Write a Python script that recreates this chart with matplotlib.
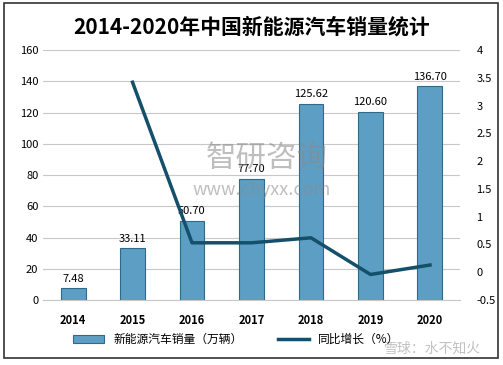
import numpy as np
import matplotlib.pyplot as plt
from matplotlib.patches import Rectangle

plt.rcParams['font.family'] = ['Noto Sans CJK SC', 'DejaVu Sans']

years = ['2014', '2015', '2016', '2017', '2018', '2019', '2020']
sales = [7.48, 33.11, 50.70, 77.70, 125.62, 120.60, 136.70]
growth_years = ['2015', '2016', '2017', '2018', '2019', '2020']
growth = [3.42, 0.53, 0.53, 0.62, -0.04, 0.13]

fig = plt.figure(figsize=(5.03, 3.65), dpi=100)
fig.patches.append(Rectangle((0.008, 0.02), 0.982, 0.972, transform=fig.transFigure,
                             fill=False, edgecolor='#333333', lw=1.2))
ax = fig.add_axes([0.086, 0.178, 0.828, 0.685])
x = np.arange(len(years))
ax.bar(x, sales, width=0.42, color='#5d9fc4', edgecolor='#2f6a8a', lw=0.8,
       label='新能源汽车销量（万辆）', zorder=2)
for xi, v in zip(x, sales):
    ax.text(xi, v + 3, f'{v:.2f}', ha='center', va='bottom', fontsize=8, zorder=5)
ax.set_xlim(-0.5, 6.5)
ax.set_ylim(0, 160)
ax.set_yticks(range(0, 161, 20))
ax.set_xticks(x)
ax.set_xticklabels(years, fontweight='bold', fontsize=9)
ax.grid(axis='y', color='#c8c8c8', lw=0.8, zorder=0)
for s in ax.spines.values():
    s.set_visible(False)
ax.spines['bottom'].set_visible(True)
ax.spines['bottom'].set_color('#c8c8c8')
ax.tick_params(length=0, labelsize=8)
ax.tick_params(axis='x', pad=10)

ax2 = ax.twinx()
gx = [years.index(y) for y in growth_years]
ax2.plot(gx, growth, color='#15506a', lw=2.5, label='同比增长（%）', zorder=3)
ax2.set_ylim(-0.5, 4)
ax2.set_yticks(np.arange(-0.5, 4.01, 0.5))
ax2.set_yticklabels(['-0.5', '0', '0.5', '1', '1.5', '2', '2.5', '3', '3.5', '4'])
for s in ax2.spines.values():
    s.set_visible(False)
ax2.tick_params(length=0, labelsize=8, pad=12)

fig.text(0.5, 0.925, '2014-2020年中国新能源汽车销量统计', ha='center', va='center',
         fontsize=15, fontweight='bold')

h1, l1 = ax.get_legend_handles_labels()
h2, l2 = ax2.get_legend_handles_labels()
fig.legend(h1 + h2, l1 + l2, loc='center', bbox_to_anchor=(0.47, 0.07), ncol=2,
           frameon=False, fontsize=8.5, handlelength=2.6, columnspacing=3)

fig.text(0.53, 0.565, '智研咨询', ha='center', va='center', fontsize=22,
         color='#8a8a8a', alpha=0.55, zorder=10)
fig.text(0.52, 0.48, 'www.chyxx.com', ha='center', va='center', fontsize=13,
         color='#8a8a8a', alpha=0.55, zorder=10)
fig.text(0.86, 0.045, '雪球：水不知火', ha='center', va='center', fontsize=10,
         color='#bbbbbb', alpha=0.9)

fig.savefig('out.png', dpi=100)
